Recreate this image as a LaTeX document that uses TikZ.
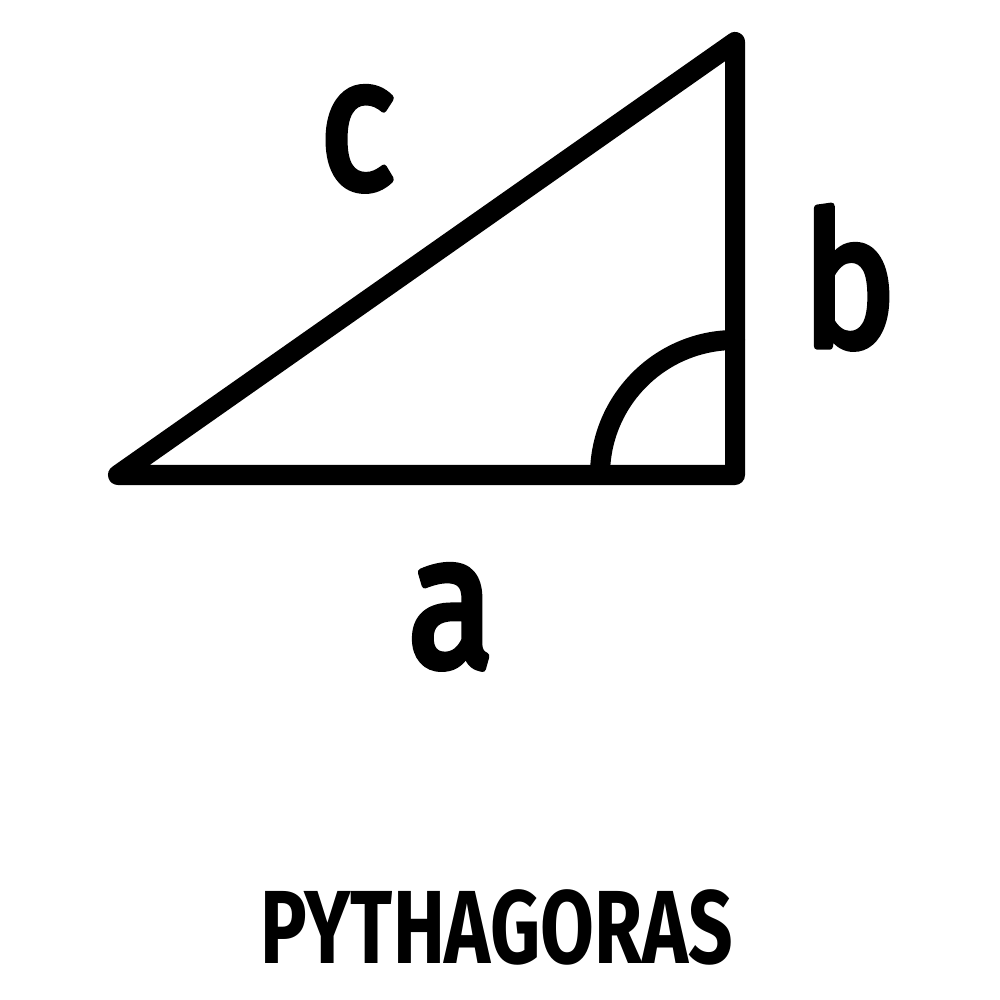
\documentclass[tikz,border=0pt]{standalone}
\usepackage{fontspec}
\usepackage{tikz}
\usetikzlibrary{positioning, calc}
\newfontfamily\sidefont{Fira Sans}[FakeBold=4]
\newfontfamily\titlefont{Fira Sans}

\begin{document}
\begin{tikzpicture}[line width=5.7pt, line join=round, line cap=round,
  sidelabel/.style={anchor=base, inner sep=0pt, xscale=0.85, font=\sidefont\fontsize{53}{53}\selectfont}]
  \useasboundingbox (0,0) rectangle (10,10);
  % triangle corners
  \coordinate (left) at (1.18, 5.25);
  \coordinate (corner) at (7.35, 5.25);
  \coordinate (top) at (7.35, 9.58);
  \draw (left) -- (corner) -- (top) -- cycle;
  \draw ($(corner)+(-1.35,0)$) arc[start angle=180, end angle=90, radius=1.35];
  % side names
  \node[sidelabel] (hyp) at (3.575, 8.12) {c};
  \node[sidelabel] (vert) at (8.49, 6.54) {b};
  \node[sidelabel] (base) at (4.51, 3.34) {a};
  \node[anchor=base, inner sep=0pt, xscale=0.75, font=\titlefont\bfseries\fontsize{29.6}{30}\selectfont] (title) at (4.97, 0.37) {PYTHAGORAS};
\end{tikzpicture}
\end{document}
